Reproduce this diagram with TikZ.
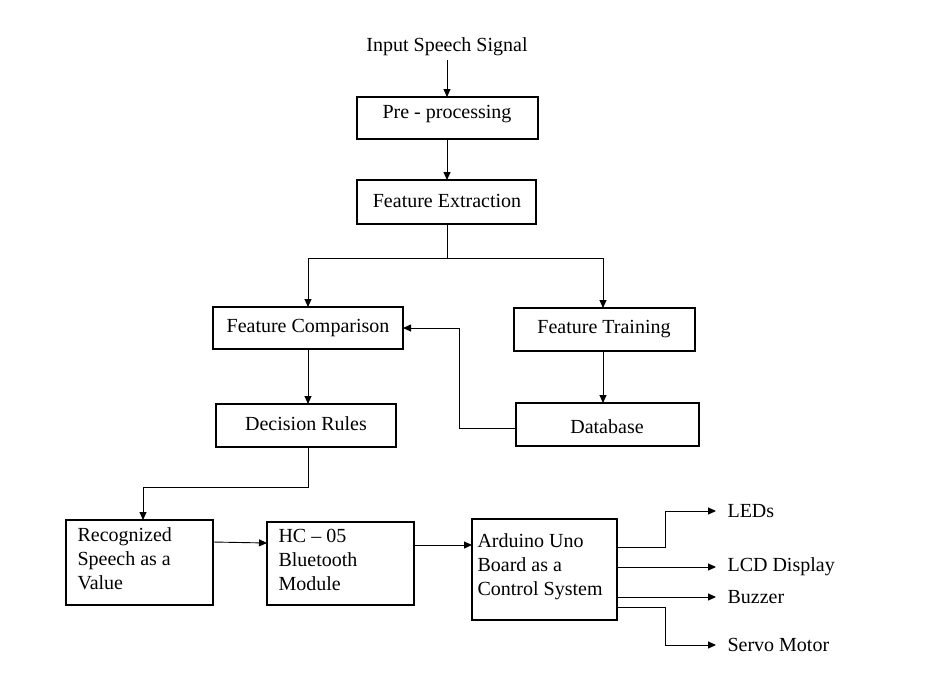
\documentclass[tikz,border=0pt]{standalone}
\usepackage{fontspec}
\setmainfont{Liberation Serif}
\usetikzlibrary{arrows.meta}
\begin{document}
\begin{tikzpicture}[x=1pt,y=-1pt,
  txt/.style={font=\fontsize{20}{24}\selectfont},
  box/.style={draw,line width=1.2pt},
  con/.style={line width=0.9pt},
  arr/.style={con,-{Triangle[length=8pt,width=7pt]}}]
\useasboundingbox (0,0) rectangle (941,672);
\node[txt] (in) at (447,47) {Input Speech Signal};
\draw[box] (357,97) rectangle (538,139); \node[txt] (pre) at (447,114) {Pre - processing};
\draw[box] (357,180) rectangle (536,224); \node[txt] (fe) at (447,201) {Feature Extraction};
\draw[box] (213,307) rectangle (403,349); \node[txt] (fc) at (308,328) {Feature Comparison};
\draw[box] (514,308) rectangle (695,351); \node[txt] (ft) at (604,329) {Feature Training};
\draw[box] (516,403) rectangle (699,446); \node[txt] (db) at (607,427) {Database};
\draw[box] (216,404) rectangle (396,447); \node[txt] (dr) at (306,424) {Decision Rules};
\draw[box] (66,520) rectangle (213,605);
\node[txt,align=left,anchor=north west] (rs) at (74,524) {Recognized\\Speech as a\\Value};
\draw[box] (267,522) rectangle (414,605);
\node[txt,align=left,anchor=north west] (hc) at (275,526) {HC – 05\\Bluetooth\\Module};
\draw[box] (472,519) rectangle (617,620);
\node[txt,align=left,anchor=north west] (ar) at (474,530) {Arduino Uno\\Board as a\\Control System};
\node[txt,anchor=west] (led) at (724,511) {LEDs};
\node[txt,anchor=west] (lcd) at (724,567) {LCD Display};
\node[txt,anchor=west] (buz) at (724,597) {Buzzer};
\node[txt,anchor=west] (sm) at (724,645) {Servo Motor};
\coordinate (s) at (447,224);
\coordinate (j) at (447,258);
\draw[arr] (447,60) -- (447,97);
\draw[arr] (447,139) -- (447,180);
\draw[con] (s) -- (j);
\draw[arr] (j) -| (308,307);
\draw[arr] (j) -| (603,308);
\draw[arr] (603,351) -- (603,403);
\draw[arr] (516,428) -- (459,428) -- (459,328) -- (403,328);
\draw[arr] (308,349) -- (308,404);
\draw[arr] (308,447) -- (308,487) -- (143,487) -- (143,520);
\draw[arr] (213,542) -- (267,543);
\draw[arr] (414,545) -- (472,545);
\draw[arr] (617,547) -- (665,547) -- (665,511) -- (716,511);
\draw[arr] (617,567) -- (716,567);
\draw[arr] (617,597) -- (716,597);
\draw[arr] (617,607) -- (665,607) -- (665,645) -- (716,645);
\end{tikzpicture}
\end{document}
